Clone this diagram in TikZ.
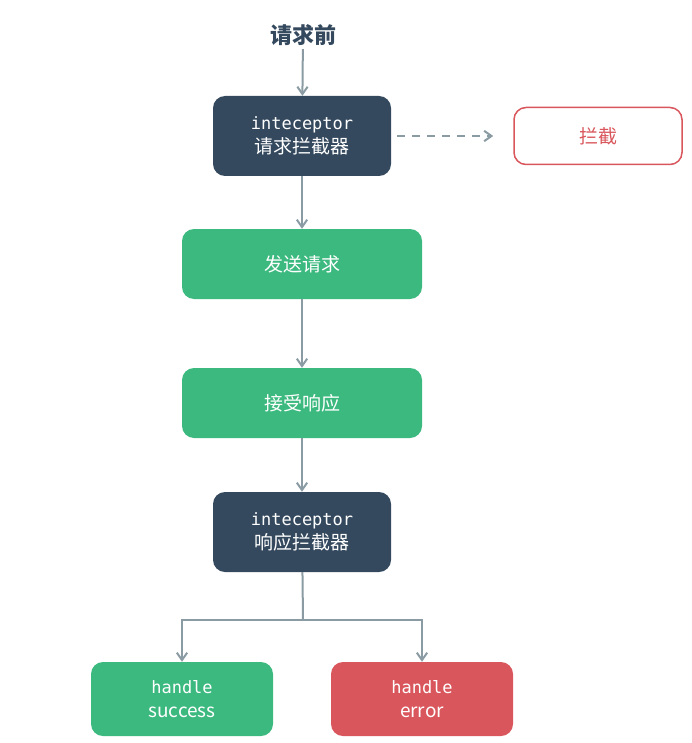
\documentclass[tikz,border=0pt]{standalone}
\usepackage{fontspec}
\setmonofont{DejaVu Sans Mono}
\newfontfamily\cjk{Noto Sans CJK SC}
\usetikzlibrary{arrows.meta,positioning}
\definecolor{darkbox}{HTML}{34495E}
\definecolor{greenbox}{HTML}{3CB97F}
\definecolor{redbox}{HTML}{D9565C}
\definecolor{arrowgray}{HTML}{8A9BA3}

\begin{document}
\begin{tikzpicture}[x=1pt,y=-1pt,
            box/.style={rounded corners=12pt, text=white, align=center, font=\cjk\fontsize{19}{24}\selectfont},
            dark box/.style={box, fill=darkbox, minimum width=178pt, minimum height=80pt},
            green box/.style={box, fill=greenbox, minimum width=240pt, minimum height=70pt},
            end box/.style={box, minimum width=182pt, minimum height=74pt},
            flow/.style={draw=arrowgray, line width=2pt, -{Straight Barb[angle=70:9pt]}}]

        \useasboundingbox (0,0) rectangle (692,743);

        \node[font=\cjk\bfseries\fontsize{22}{26}\selectfont, text=darkbox] (start) at (303,35) {请求前};
        \node[dark box] (reqint) at (302,136) {{\ttfamily\fontsize{17}{22}\selectfont inteceptor}\\请求拦截器};
        \node[box, draw=redbox, line width=1.5pt, fill=white, text=redbox, minimum width=168pt, minimum height=57pt] (block) at (598,136) {拦截};
        \node[green box] (send) at (302,264) {发送请求};
        \node[green box] (recv) at (302,403) {接受响应};
        \node[dark box] (resint) at (302,532) {{\ttfamily\fontsize{17}{22}\selectfont inteceptor}\\响应拦截器};
        \node[end box, fill=greenbox] (ok) at (182,699) {\ttfamily\fontsize{17}{24}\selectfont handle\\success};
        \node[end box, fill=redbox] (err) at (422,699) {\ttfamily\fontsize{17}{24}\selectfont handle\\error};
        \coordinate (split) at (303,620);

        \draw[flow] (start) -- (reqint);
        \draw[flow, dashed, dash pattern=on 8pt off 7pt] ([xshift=6pt]reqint.east) -- ([xshift=-20pt]block.west);
        \draw[flow] (reqint) -- (send);
        \draw[flow] (send) -- (recv);
        \draw[flow] (recv) -- (resint);
        \draw[draw=arrowgray, line width=2pt] (resint) -- (split);
        \draw[flow] (split) -| (ok);
        \draw[flow] (split) -| (err);
\end{tikzpicture}
\end{document}
